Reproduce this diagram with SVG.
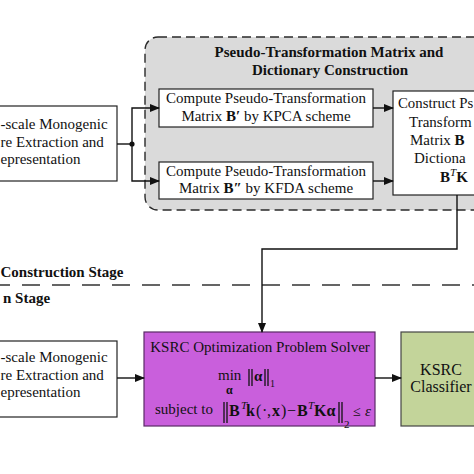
<svg xmlns="http://www.w3.org/2000/svg" width="474" height="474" viewBox="0 0 474 474">
<style>
.t{font-family:"Liberation Serif","Times New Roman",serif;fill:#111;}
.b{font-weight:bold;}
.box{fill:#fff;stroke:#222;stroke-width:1.2;}
.ln{stroke:#111;stroke-width:1.4;fill:none;}
.bar{stroke:#111;stroke-width:1.3;}
</style>
<defs>
<marker id="ah" markerWidth="10" markerHeight="8" refX="9" refY="4" orient="auto" markerUnits="userSpaceOnUse">
<path d="M0,0 L10,4 L0,8 Z" fill="#111"/>
</marker>
</defs>
<rect width="474" height="474" fill="#fff"/>

<g id="construction-group">
<rect x="145" y="37" width="345" height="173" rx="13" ry="13" fill="#dadada" stroke="#2a2a2a" stroke-width="1.4" stroke-dasharray="9,5"/>
<text class="t b" x="329" y="57" font-size="15" text-anchor="middle">Pseudo-Transformation Matrix and</text>
<text class="t b" x="330" y="75" font-size="15" text-anchor="middle">Dictionary Construction</text>
</g>

<g id="stage-divider">
<line x1="0" y1="285" x2="474" y2="285" stroke="#333" stroke-width="1.4" stroke-dasharray="18,12" stroke-dashoffset="8"/>
<text class="t b" x="0.5" y="277" font-size="15">Construction Stage</text>
<text class="t b" x="3" y="303" font-size="15">n Stage</text>
</g>

<g id="feature-top">
<rect class="box" x="-55" y="106" width="172" height="75"/>
<text class="t" x="0.5" y="129" font-size="15">-scale Monogenic</text>
<text class="t" x="0.5" y="147" font-size="15">re Extraction and</text>
<text class="t" x="0.5" y="164" font-size="15">epresentation</text>
</g>

<g id="kpca">
<rect class="box" x="159" y="89" width="214" height="38"/>
<text class="t" x="266" y="103" font-size="15" text-anchor="middle">Compute Pseudo-Transformation</text>
<text class="t" x="266" y="121" font-size="15" text-anchor="middle">Matrix  <tspan class="b">B′</tspan>  by KPCA scheme</text>
</g>

<g id="kfda">
<rect class="box" x="159" y="162" width="214" height="37"/>
<text class="t" x="266" y="176" font-size="15" text-anchor="middle">Compute Pseudo-Transformation</text>
<text class="t" x="266" y="193" font-size="15" text-anchor="middle">Matrix  <tspan class="b">B″</tspan>  by KFDA scheme</text>
</g>

<g id="construct">
<rect class="box" x="393" y="91" width="124" height="104"/>
<text class="t" x="398" y="108" font-size="14.8">Construct Ps</text>
<text class="t" x="409" y="127" font-size="15">Transform</text>
<text class="t" x="410" y="145" font-size="15">Matrix  <tspan class="b">B</tspan></text>
<text class="t" x="414" y="163" font-size="15">Dictiona</text>
<text class="t" x="440" y="182" font-size="15"><tspan class="b">B</tspan><tspan font-style="italic" font-size="11" dy="-6">T</tspan><tspan class="b" dy="6">K</tspan></text>
</g>

<g id="feature-bottom">
<rect class="box" x="-55" y="341" width="172" height="76"/>
<text class="t" x="0.5" y="362" font-size="15">-scale Monogenic</text>
<text class="t" x="0.5" y="380" font-size="15">re Extraction and</text>
<text class="t" x="0.5" y="397" font-size="15">epresentation</text>
</g>

<g id="solver">
<rect x="144" y="332" width="231" height="94" fill="#c95fdc" stroke="#5a2a66" stroke-width="1.2"/>
<text class="t" x="260" y="352" font-size="15" text-anchor="middle">KSRC Optimization Problem Solver</text>
<text class="t" x="218" y="380" font-size="15">min</text>
<text class="t b" x="226" y="394" font-size="12">α</text>
<line class="bar" x1="249" y1="369" x2="249" y2="386"/>
<line class="bar" x1="252" y1="369" x2="252" y2="386"/>
<text class="t b" x="254" y="381" font-size="15">α</text>
<line class="bar" x1="265" y1="369" x2="265" y2="386"/>
<line class="bar" x1="268" y1="369" x2="268" y2="386"/>
<text class="t" x="270" y="387" font-size="10">1</text>
<text class="t" x="155" y="414" font-size="15">subject to</text>
<line class="bar" x1="224" y1="402" x2="224" y2="423"/>
<line class="bar" x1="227" y1="402" x2="227" y2="423"/>
<text class="t" y="416" font-size="16"><tspan class="b" x="229">B</tspan><tspan font-style="italic" font-size="11" x="241" dy="-7">T</tspan><tspan class="b" x="246" dy="7">k</tspan><tspan x="256">(</tspan><tspan x="262">·</tspan><tspan x="267">,</tspan><tspan class="b" x="272">x</tspan><tspan x="281">)</tspan><tspan x="287">−</tspan><tspan class="b" x="297">B</tspan><tspan font-style="italic" font-size="11" x="308" dy="-7">T</tspan><tspan class="b" x="314" dy="7">Kα</tspan></text>
<line class="bar" x1="339" y1="402" x2="339" y2="423"/>
<line class="bar" x1="342" y1="402" x2="342" y2="423"/>
<text class="t" x="344" y="428" font-size="11">2</text>
<text class="t" x="353" y="416" font-size="14">≤</text>
<text class="t" x="365" y="416" font-size="15" font-style="italic">ε</text>
</g>

<g id="classifier">
<rect x="401" y="332" width="80" height="94" fill="#c3d49a" stroke="#444" stroke-width="1.2"/>
<text class="t" x="441" y="375" font-size="16" text-anchor="middle">KSRC</text>
<text class="t" x="441" y="392" font-size="16" text-anchor="middle">Classifier</text>
</g>

<g id="connectors">
<line class="ln" x1="117" y1="144" x2="132" y2="144"/>
<circle cx="132" cy="144" r="2.6" fill="#111"/>
<polyline class="ln" points="132,144 132,108 159,108" marker-end="url(#ah)"/>
<polyline class="ln" points="132,144 132,181 159,181" marker-end="url(#ah)"/>
<line class="ln" x1="373" y1="108" x2="393" y2="108" marker-end="url(#ah)"/>
<line class="ln" x1="373" y1="181" x2="393" y2="181" marker-end="url(#ah)"/>
<polyline class="ln" points="457,195 457,249 262,249 262,332" marker-end="url(#ah)"/>
<line class="ln" x1="117" y1="378" x2="144" y2="378" marker-end="url(#ah)"/>
<line class="ln" x1="375" y1="378" x2="401" y2="378" marker-end="url(#ah)"/>
</g>
</svg>
